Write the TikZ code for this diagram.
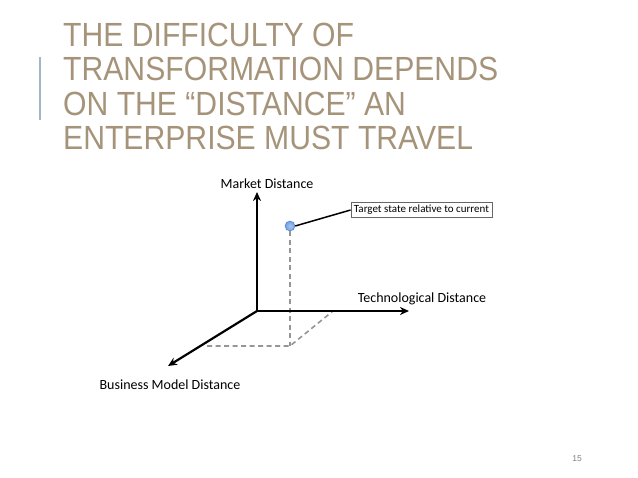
\documentclass[tikz,border=0pt]{standalone}
\usepackage{fontspec}
\setmainfont{Carlito}
\newfontfamily\titlefont[FakeStretch=0.9]{Liberation Sans}
\newfontfamily\numfont{Liberation Sans}
\usetikzlibrary{arrows.meta,shadings}
\definecolor{titletan}{RGB}{166,148,122}
\definecolor{barblue}{RGB}{160,185,192}
\definecolor{dashgray}{RGB}{150,150,150}
\definecolor{dotblue}{RGB}{110,160,228}
\definecolor{dotedge}{RGB}{70,120,200}
\tikzset{
  axis/.style={line width=2.2pt,-{Stealth[length=9pt,width=8pt]}},
  guide/.style={dashgray,line width=1.6pt,dash pattern=on 5pt off 3.5pt},
  axlabel/.style={font=\fontsize{14}{16}\selectfont,inner sep=0pt},
  callout/.style={draw=gray!80!black,line width=0.8pt,font=\fontsize{11}{13}\selectfont,inner xsep=3pt,inner ysep=2.5pt,fill=white},
  titletext/.style={titletan,font=\titlefont\fontsize{33.5}{34.3}\selectfont,align=left,anchor=north west,inner sep=0pt},
  ballstyle/.style={circle,inner sep=0pt,minimum size=10pt,inner color=dotblue!60!white,outer color=dotblue,draw=dotedge,line width=0.4pt}
}
\begin{document}
\begin{tikzpicture}[x=1pt,y=-1pt]
\useasboundingbox[fill=white] (0,0) rectangle (638,478);
% title
\draw[barblue,line width=1.2pt] (40,57) -- (40,120);
\node[titletext] (title) at (63,23) {THE DIFFICULTY OF\\TRANSFORMATION DEPENDS\\ON THE “DISTANCE” AN\\ENTERPRISE MUST TRAVEL};
% axes
\coordinate (O) at (257,311);
\coordinate (mkt) at (257,192);
\coordinate (tech) at (409,311);
\coordinate (bus) at (168,366);
\coordinate (floor) at (290,346);
\coordinate (xproj) at (333,311);
\coordinate (zproj) at (207,346);
\node[ballstyle] (dot) at (290,226) {};
\draw[guide] (dot.south) -- (floor);
\draw[guide] (zproj) -- (floor) -- (xproj);
\draw[axis] (O) -- (mkt);
\draw[axis] (O) -- (tech);
\draw[axis] (O) -- (bus);
\node[axlabel] (lmkt) at (267,184) {Market Distance};
\node[axlabel] (ltech) at (422,299) {Technological Distance};
\node[axlabel] (lbus) at (170,385) {Business Model Distance};
\node[callout] (box) at (421.5,210) {Target state relative to current};
\draw[line width=1.5pt] (box.west) -- (dot.east);
\node[font=\numfont\fontsize{8.5}{9}\selectfont,text=gray,inner sep=0pt] (pg) at (577,459) {15};
\end{tikzpicture}
\end{document}
